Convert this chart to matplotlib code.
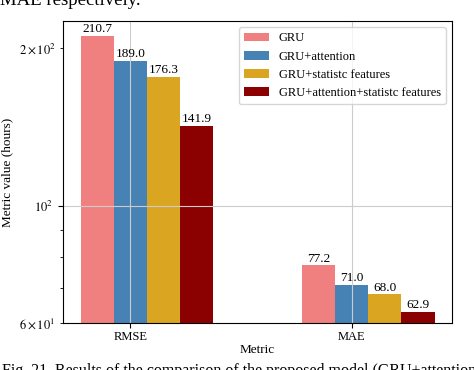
import numpy as np
import matplotlib
matplotlib.use("Agg")
import matplotlib.pyplot as plt
from matplotlib.ticker import FixedLocator

plt.rcParams['font.family'] = ['Liberation Serif', 'DejaVu Serif']
plt.rcParams['mathtext.fontset'] = 'stix'

# data
metrics = ['RMSE', 'MAE']
models = ['GRU', 'GRU+attention', 'GRU+statistc features',
          'GRU+attention+statistc features']
values = {
    'GRU': [210.7, 77.2],
    'GRU+attention': [189.0, 71.0],
    'GRU+statistc features': [176.3, 68.0],
    'GRU+attention+statistc features': [141.9, 62.9],
}
colors = ['#F08080', '#4682B4', '#DAA520', '#8B0000']

fig = plt.figure(figsize=(4.74, 3.70), dpi=100)
ax = fig.add_axes([0.133, 0.127, 0.821, 0.816])

x = np.arange(len(metrics))
w = 0.15
for i, m in enumerate(models):
    bars = ax.bar(x + (i - 1) * w, values[m], w, color=colors[i], label=m)
    for b, v in zip(bars, values[m]):
        ax.text(b.get_x() + b.get_width() / 2, v * 1.004, '%.1f' % v,
                ha='center', va='bottom', fontsize=9.5)

ax.set_yscale('log')
ax.set_ylim(60, 225)
ax.yaxis.set_major_locator(FixedLocator([100]))
ax.yaxis.set_major_formatter(plt.FuncFormatter(lambda v, p: r'$10^{2}$'))
ax.yaxis.set_minor_locator(FixedLocator([60, 70, 80, 90, 200]))
ax.yaxis.set_minor_formatter(plt.FuncFormatter(
    lambda v, p: {60: r'$6\times10^{1}$', 200: r'$2\times10^{2}$'}.get(int(round(v)), '')))
ax.set_xticks(x)
ax.set_xticklabels(metrics)
ax.tick_params(labelsize=9, which='both')
ax.tick_params(axis='x', pad=2)
ax.grid(True, color='#cccccc', linewidth=0.8)

ax.set_xlabel('Metric', fontsize=9.5, labelpad=1)
ax.set_ylabel('Metric value (hours)', fontsize=9.5)
ax.yaxis.set_label_coords(-0.128, 0.5)
ax.legend(loc='upper right', fontsize=9, framealpha=0.8)

# surrounding page text
fig.text(0.0, 0.9865, 'MAE respectively.', fontsize=13.5, ha='left', va='baseline')
fig.text(0.005, -0.0135, 'Fig. 21. Results of the comparison of the proposed model (GRU+attention+',
         fontsize=11.5, ha='left', va='baseline')

fig.savefig('out.png', dpi=100)
